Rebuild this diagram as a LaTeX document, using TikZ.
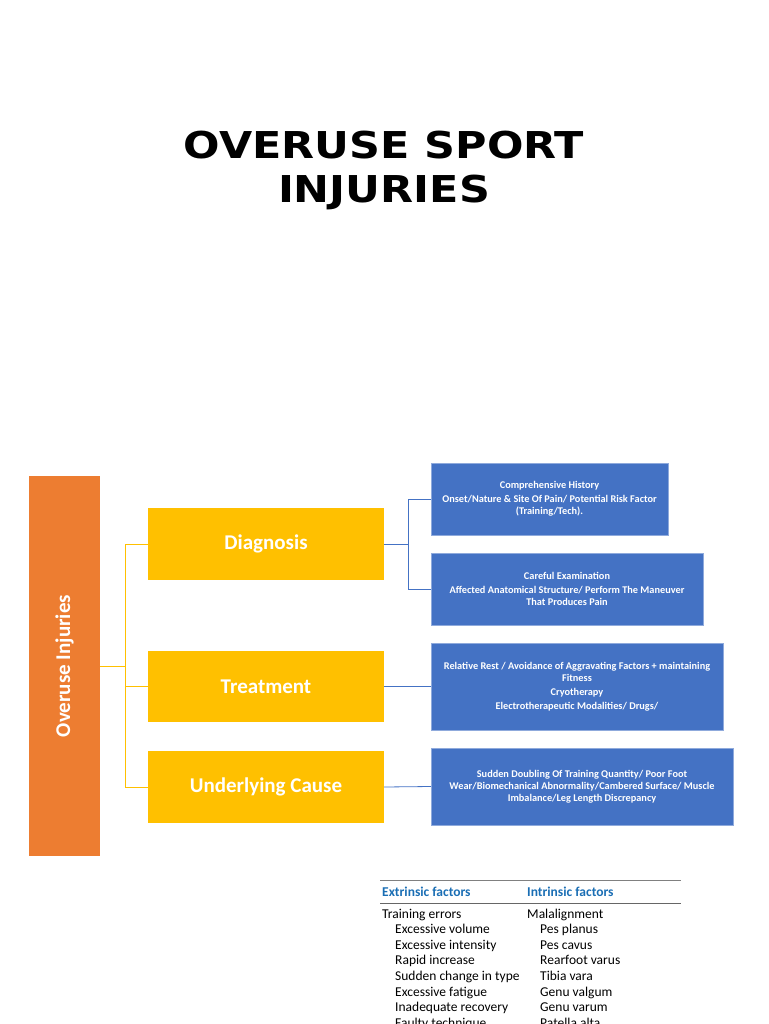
\documentclass[tikz,border=0pt]{standalone}
\usepackage{fontspec}
\setmainfont{Carlito}
\newfontfamily\titlefont{DejaVu Sans}
\definecolor{cor}{RGB}{237,125,49}
\definecolor{cye}{RGB}{255,192,0}
\definecolor{cbl}{RGB}{68,114,196}
\definecolor{cbd}{RGB}{143,170,220}
\definecolor{chd}{RGB}{26,110,180}
\begin{document}
\begin{tikzpicture}[x=1pt,y=-1pt,
  yb/.style={draw=none,fill=cye,text=white,font=\bfseries\fontsize{21}{24}\selectfont},
  bb/.style={draw=cbd,fill=cbl,text=white,font=\bfseries\fontsize{10.3}{12}\selectfont,align=center},
  oline/.style={draw=cye,line width=0.8pt},
  bline/.style={draw=cbl,line width=0.8pt},
  tt/.style={anchor=base west,font=\fontsize{13.5}{15}\selectfont,inner sep=0pt},
  th/.style={anchor=base west,inner sep=0pt,text=chd,font=\bfseries\fontsize{13.5}{15}\selectfont}]
\useasboundingbox (0,0) rectangle (768,1024);
\clip (0,0) rectangle (768,1024);
\node[xscale=1.16,font=\titlefont\bfseries\fontsize{37}{44}\selectfont,align=center] (title) at (384,170) {OVERUSE SPORT\\INJURIES};
\fill[cor] (29,476) rectangle (100,856);
\node[rotate=90,text=white,font=\bfseries\fontsize{21}{24}\selectfont] (oi) at (64.5,666) {Overuse Injuries};
\coordinate (oe) at (100,666);
\node[yb,minimum width=236,minimum height=72] (d) at (266,544) {Diagnosis};
\node[yb,minimum width=236,minimum height=71] (t) at (266,686.5) {Treatment};
\node[yb,minimum width=236,minimum height=72] (u) at (266,787) {Underlying Cause};
\node[bb,minimum width=237,minimum height=72] (b1) at (549.5,499) {Comprehensive History\\[2pt]Onset/Nature \& Site Of Pain/ Potential Risk Factor\\(Training/Tech).};
\node[bb,minimum width=272,minimum height=72] (b2) at (567,589) {Careful Examination\\[2pt]Affected Anatomical Structure/ Perform The Maneuver\\That Produces Pain};
\node[bb,minimum width=292,minimum height=87] (b3) at (577,686.5) {Relative Rest / Avoidance of Aggravating Factors + maintaining\\Fitness\\[2pt]Cryotherapy\\[2pt]Electrotherapeutic Modalities/ Drugs/};
\node[bb,minimum width=302,minimum height=77] (b4) at (582,786.5) {Sudden Doubling Of Training Quantity/ Poor Foot\\Wear/Biomechanical Abnormality/Cambered Surface/ Muscle\\Imbalance/Leg Length Discrepancy};
\draw[oline] (oe) -- (125,666);
\draw[oline] (d.west) -| (125,787) -- (u.west);
\draw[oline] (125,686.5) -- (t.west);
\draw[bline] (d.east) -- (408,544);
\draw[bline] (b1.west) -| (408,589) -- (b2.west);
\draw[bline] (t.east) -- (b3.west);
\draw[bline] (u.east) -- (b4.west);
\draw[gray,line width=0.6pt] (380,880) -- (681,880);
\draw[gray!80!black,line width=1pt] (380,903) -- (681,903);
\node[th] (h1) at (382,896) {Extrinsic factors};
\node[th] (h2) at (527,896) {Intrinsic factors};
\foreach \a/\b/\i [count=\k from 0] in {Training errors/Malalignment/0,Excessive volume/Pes planus/1,Excessive intensity/Pes cavus/1,Rapid increase/Rearfoot varus/1,Sudden change in type/Tibia vara/1,Excessive fatigue/Genu valgum/1,Inadequate recovery/Genu varum/1,Faulty technique/Patella alta/1}{
  \node[tt] (l\k) at (382+13*\i,918+15.6*\k) {\a};
  \node[tt] (r\k) at (527+13*\i,918+15.6*\k) {\b};
}
\end{tikzpicture}
\end{document}
